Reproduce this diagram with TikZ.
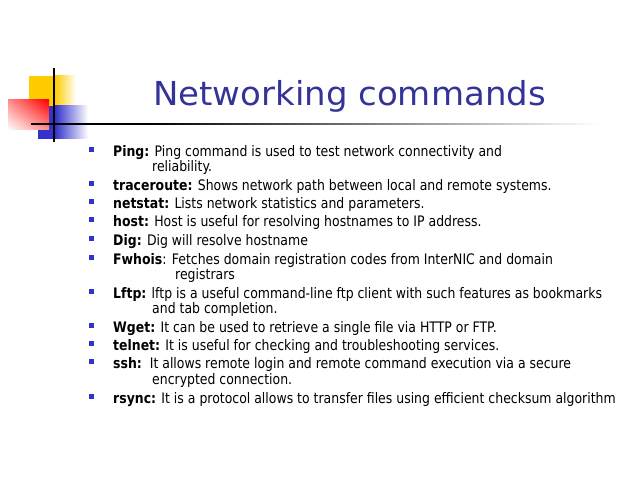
\documentclass[tikz,border=0pt]{standalone}
\usepackage{fontspec}
\setmainfont{DejaVu Sans}[FakeStretch=0.86]
\newfontfamily\titlefont{DejaVu Sans}[FakeStretch=1.03]
\usepackage{tikz}
\usetikzlibrary{shadings}
\definecolor{titleblue}{RGB}{51,51,153}
\definecolor{bulletblue}{RGB}{51,51,204}
\definecolor{logoyellow}{RGB}{255,204,0}
\definecolor{logored}{RGB}{255,0,0}
\tikzset{
  bodyline/.style={anchor=base west,inner sep=0pt,font=\fontsize{14.5}{17}\selectfont},
  bulletsq/.style={fill=bulletblue,inner sep=0pt,minimum size=5pt}
}

\begin{document}
\begin{tikzpicture}[x=1pt,y=-1pt]
                \useasboundingbox (0,0) rectangle (638,478);
                % logo
                \fill[logoyellow] (29,76) rectangle (55,112);
                \shade[left color=logoyellow,right color=white] (55,76) rectangle (76,112);
                \fill[bulletblue] (38,106) rectangle (55,139);
                \shade[left color=bulletblue,right color=white] (55,106) rectangle (88,139);
                \shade[upper right=logored,upper left=logored!45,lower right=logored!45,lower left=white] (8,100) rectangle (49,130);
                \draw[line width=1.8pt] (54,68) -- (54,142);
                \draw[line width=1.8pt] (31,124) -- (150,124);
                \shade[left color=black,right color=white] (150,123.1) rectangle (600,124.9);
                % title
                \node[anchor=base west,inner sep=0pt,text=titleblue,font=\titlefont\fontsize{33}{38}\selectfont] (title) at (153,105.7) {Networking commands};
                % bullets
                \node[bulletsq] (p1) at (91.5,149.5) {};
                \node[bulletsq] (p2) at (91.5,183.5) {};
                \node[bulletsq] (p3) at (91.5,201.5) {};
                \node[bulletsq] (p4) at (91.5,219.5) {};
                \node[bulletsq] (p5) at (91.5,238.5) {};
                \node[bulletsq] (p6) at (91.5,257.5) {};
                \node[bulletsq] (p7) at (91.5,291.5) {};
                \node[bulletsq] (p8) at (91.5,325.5) {};
                \node[bulletsq] (p9) at (91.5,343.5) {};
                \node[bulletsq] (p10) at (91.5,361.5) {};
                \node[bulletsq] (p11) at (91.5,396.5) {};
                % text
                \node[bodyline] (ping) at (113,157) {\textbf{Ping:} Ping command is used to test network connectivity and};
                \node[bodyline] (ping2) at (152,172) {reliability.};
                \node[bodyline] (trace) at (113,191) {\textbf{traceroute:} Shows network path between local and remote systems.};
                \node[bodyline] (netstat) at (113,209) {\textbf{netstat:} Lists network statistics and parameters.};
                \node[bodyline] (host) at (113,227) {\textbf{host:} Host is useful for resolving hostnames to IP address.};
                \node[bodyline] (dig) at (113,246) {\textbf{Dig:} Dig will resolve hostname};
                \node[bodyline] (fwhois) at (113,265) {\textbf{Fwhois}: Fetches domain registration codes from InterNIC and domain};
                \node[bodyline] (fwhois2) at (175,280) {registrars};
                \node[bodyline] (lftp) at (113,299) {\textbf{Lftp:} lftp is a useful command-line ftp client with such features as bookmarks};
                \node[bodyline] (lftp2) at (152,314) {and tab completion.};
                \node[bodyline] (wget) at (113,333) {\textbf{Wget:} It can be used to retrieve a single file via HTTP or FTP.};
                \node[bodyline] (telnet) at (113,351) {\textbf{telnet:} It is useful for checking and troubleshooting services.};
                \node[bodyline] (ssh) at (113,369) {\textbf{ssh:}\ \ It allows remote login and remote command execution via a secure};
                \node[bodyline] (ssh2) at (152,385) {encrypted connection.};
                \node[bodyline] (rsync) at (113,404) {\textbf{rsync:} It is a protocol allows to transfer files using efficient checksum algorithm};
            \end{tikzpicture}
\end{document}
